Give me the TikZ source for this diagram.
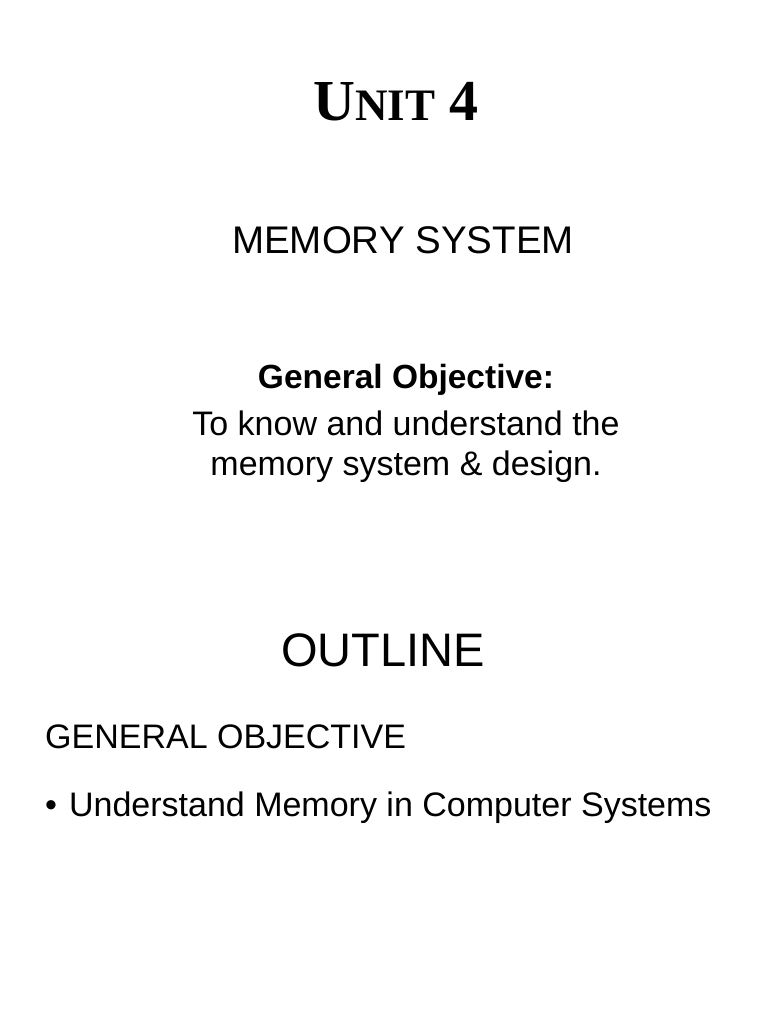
\documentclass[tikz,border=0pt]{standalone}
\usepackage{fontspec}
\setmainfont{Liberation Sans}
\newfontfamily\titlefont{Liberation Serif}
\begin{document}
\begin{tikzpicture}[x=1pt,y=-1pt]
\tikzset{txt/.style={inner sep=0pt}}
\useasboundingbox[fill=white] (0,0) rectangle (768,1024);
\node[txt] (t) at (396,102) {\titlefont\bfseries\fontsize{58}{60}\selectfont U{\fontsize{45}{50}\selectfont NIT} 4};
\node[txt] (m) at (403,240) {\fontsize{38.5}{44}\selectfont MEMORY SYSTEM};
\node[txt] (g) at (406,380) {\fontsize{33.5}{38}\selectfont\bfseries General Objective:};
\node[txt,align=center,font=\fontsize{34}{40}\selectfont] (k) at (406,447) {To know and understand the\\memory system \& design.};
\node[txt] (o) at (383,650) {\fontsize{47}{52}\selectfont OUTLINE};
\node[txt,anchor=west] (go) at (45,737) {\fontsize{34}{38}\selectfont GENERAL OBJECTIVE};
\node[txt,anchor=west] (b) at (45,808) {\fontsize{34}{38}\selectfont \textbullet\hspace{12pt}Understand Memory in Computer Systems};
\end{tikzpicture}
\end{document}
